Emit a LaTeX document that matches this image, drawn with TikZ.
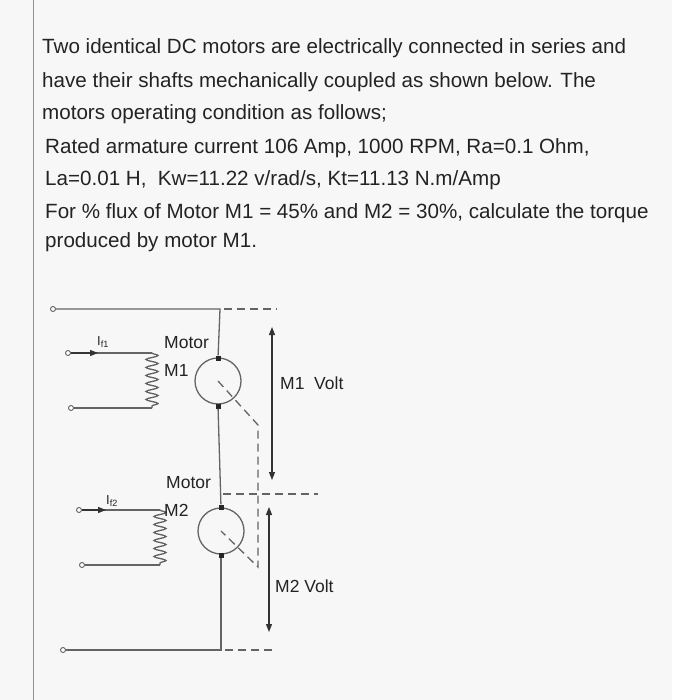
\documentclass[tikz,border=0pt]{standalone}
\usepackage{fontspec}
\setmainfont{Liberation Sans}
\usetikzlibrary{decorations.pathmorphing,arrows.meta}
\definecolor{ln}{RGB}{100,100,100}
\definecolor{tx}{RGB}{35,35,35}
\begin{document}
\begin{tikzpicture}[x=1pt,y=-1pt,
  txt/.style={anchor=west,inner sep=0pt,text=tx,font=\fontsize{20.6}{21}\selectfont},
  lbl/.style={inner sep=0pt,text=tx,font=\fontsize{17.5}{18}\selectfont},
  sub/.style={inner sep=0pt,text=tx,font=\fontsize{13}{14}\selectfont},
  wire/.style={draw=ln,line width=1.3pt},
  dsh/.style={draw=ln,line width=1.3pt,dash pattern=on 8pt off 5pt},
  term/.style={circle,draw=ln,line width=0.9pt,fill=white,inner sep=0pt,minimum size=5pt},
  brush/.style={rectangle,fill=black!85,inner sep=0pt,minimum size=5pt},
  motor/.style={circle,draw=ln,line width=1.3pt,minimum size=46pt,inner sep=0pt},
  coilst/.style={draw=ln,line width=1.3pt,decorate,decoration={snake,segment length=8pt,amplitude=6pt}},
  va/.style={draw=black!80,line width=1.3pt,{Triangle[length=8pt,width=6pt]}-{Triangle[length=8pt,width=6pt]}},
  fa/.style={draw=black!80,line width=1.3pt,-{Triangle[length=8pt,width=6pt]}}]
\useasboundingbox[fill=gray!6] (0,0) rectangle (672,700);
\draw[ln!70,line width=1pt] (33,0) -- (33,700);
% text
\node[txt] (t1) at (42,48) {Two identical DC motors are electrically connected in series and};
\node[txt] (t2) at (42,82) {have their shafts mechanically coupled as shown below. The};
\node[txt] (t3) at (42,114) {motors operating condition as follows;};
\node[txt] (t4) at (45,148) {Rated armature current 106 Amp, 1000 RPM, Ra=0.1 Ohm,};
\node[txt] (t5) at (45,180) {La=0.01 H,\ \ Kw=11.22 v/rad/s, Kt=11.13 N.m/Amp};
\node[txt] (t6) at (45,213) {For \% flux of Motor M1 = 45\% and M2 = 30\%, calculate the torque};
\node[txt] (t7) at (45,242) {produced by motor M1.};
% motors
\node[motor] (m1) at (218,381) {};
\node[motor] (m2) at (221,531) {};
\node[brush] (b1t) at (218,358) {};
\node[brush] (b1b) at (218,406) {};
\node[brush] (b2t) at (221,507) {};
\node[brush] (b2b) at (221,555) {};
\node[term] (ta) at (53,309) {};
\node[term] (tb) at (63,650) {};
\coordinate (ca) at (220,309);
\coordinate (cb) at (221,650);
\draw[wire] (ta) -- (ca) -- (b1t);
\draw[wire] (b1b) -- (b2t);
\draw[wire] (b2b) -- (cb) -- (tb);
\draw[dsh] (224,309) -- (277,309);
\draw[dsh] (225,650) -- (275,650);
\draw[dsh] (223,494) -- (318,494);
% shaft
\coordinate (s1) at (258,425);
\coordinate (s2) at (258,567);
\draw[dsh] (m1.center) -- (s1) -- (s2) -- (m2.center);
% voltage arrows
\coordinate (v1a) at (272,327); \coordinate (v1b) at (272,480);
\coordinate (v2a) at (269,507); \coordinate (v2b) at (269,632);
\draw[va] (v1a) -- (v1b);
\draw[va] (v2a) -- (v2b);
\node[lbl,anchor=west] (l1) at (280,383) {M1\ \ Volt};
\node[lbl,anchor=west] (l2) at (275,586) {M2 Volt};
% field 1
\node[term] (f1a) at (68,353) {};
\node[term] (f1b) at (71,408) {};
\coordinate (f1c) at (152,353); \coordinate (f1d) at (152,408);
\coordinate (f1m) at (98,353);
\draw[wire] (f1a) -- (f1c);
\draw[fa] (f1a) -- (f1m);
\draw[coilst] (f1c) -- (f1d);
\draw[wire] (f1d) -- (f1b);
\node[sub] (i1) at (103,342) {I\textsubscript{f1}};
\node[lbl,anchor=west] (mt1) at (164,343) {Motor};
\node[lbl,anchor=west] (mn1) at (164,370) {M1};
% field 2
\node[term] (f2a) at (79,510) {};
\node[term] (f2b) at (82,565) {};
\coordinate (f2c) at (160,510); \coordinate (f2d) at (160,565);
\coordinate (f2m) at (106,510);
\draw[wire] (f2a) -- (f2c);
\draw[fa] (f2a) -- (f2m);
\draw[coilst] (f2c) -- (f2d);
\draw[wire] (f2d) -- (f2b);
\node[sub] (i2) at (112,501) {I\textsubscript{f2}};
\node[lbl,anchor=west] (mt2) at (166,483) {Motor};
\node[lbl,anchor=west] (mn2) at (164,510) {M2};
\end{tikzpicture}
\end{document}
